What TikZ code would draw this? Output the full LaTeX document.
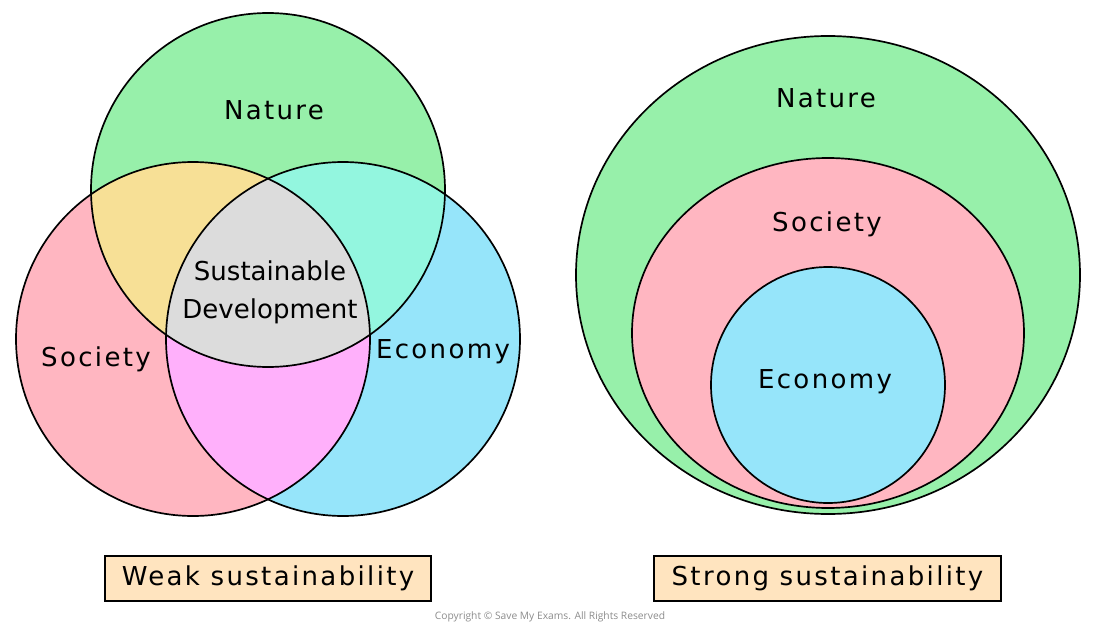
\documentclass[tikz,border=0pt]{standalone}
\usepackage{fontspec}
\setmainfont[LetterSpace=9]{DejaVu Sans}
\newfontfamily\copyfont{Open Sans}
\usetikzlibrary{calc}

\definecolor{natgreen}{HTML}{97F0AA}
\definecolor{socpink}{HTML}{FFB6C1}
\definecolor{ecoblue}{HTML}{96E5FA}
\definecolor{nsyellow}{HTML}{F7E096}
\definecolor{neaqua}{HTML}{93F6DF}
\definecolor{semagenta}{HTML}{FFB0FB}
\definecolor{coregrey}{HTML}{DCDCDC}
\definecolor{tagpeach}{HTML}{FFE4BF}

\tikzset{
  ring/.style={draw=black, line width=1.2pt},
  lbl/.style={font=\fontsize{18.5}{27}\selectfont, inner sep=0pt},
  tagbox/.style={draw=black, line width=1pt, fill=tagpeach, minimum height=1.125cm,
    font=\fontsize{18.5}{22}\selectfont}
}

\begin{document}
\begin{tikzpicture}[x=0.025cm, y=-0.025cm]
          \useasboundingbox (0,0) rectangle (1100,631);

          % weak sustainability
          \coordinate (wN) at (268,190);
          \coordinate (wS) at (193,339);
          \coordinate (wE) at (343,339);

          \fill[socpink] (wS) circle (177);
          \fill[ecoblue] (wE) circle (177);
          \fill[natgreen] (wN) circle (177);
          \begin{scope}
            \clip (wS) circle (177);
            \fill[semagenta] (wE) circle (177);
          \end{scope}
          \begin{scope}
            \clip (wN) circle (177);
            \fill[nsyellow] (wS) circle (177);
            \fill[neaqua] (wE) circle (177);
            \clip (wS) circle (177);
            \fill[coregrey] (wE) circle (177);
          \end{scope}
          \draw[ring] (wN) circle (177);
          \draw[ring] (wS) circle (177);
          \draw[ring] (wE) circle (177);

          \node[lbl] (wNat) at (274,110) {Nature};
          \node[lbl] (wSoc) at (96,359) {Society};
          \node[lbl] (wEco) at (443,352) {Economy};
          \node[lbl, align=center] (wCore) at (270,292)
          {\addfontfeature{LetterSpace=0}Sustainable\\\addfontfeature{LetterSpace=0}Development};

          % strong sustainability
          \coordinate (sN) at (828,275);
          \coordinate (sS) at (828,333);
          \coordinate (sE) at (828,385);

          \filldraw[ring, fill=natgreen] (sN) ellipse [x radius=252, y radius=239];
          \filldraw[ring, fill=socpink] (sS) ellipse [x radius=196, y radius=175];
          \filldraw[ring, fill=ecoblue] (sE) ellipse [x radius=117, y radius=118];

          \node[lbl] (sNat) at (826,98) {Nature};
          \node[lbl] (sSoc) at (827,224) {Society};
          \node[lbl] (sEco) at (825,382) {Economy};

          \node[tagbox, minimum width=8.15cm] (weak) at (268,578.5) {Weak sustainability};
          \node[tagbox, minimum width=8.675cm] (strong) at (827.5,578.5) {Strong sustainability};

          \node[text=black!45, font=\copyfont\fontsize{7.3}{9}\selectfont] (copy) at (550,617)
          {Copyright © Save My Exams. All Rights Reserved};
\end{tikzpicture}
\end{document}
